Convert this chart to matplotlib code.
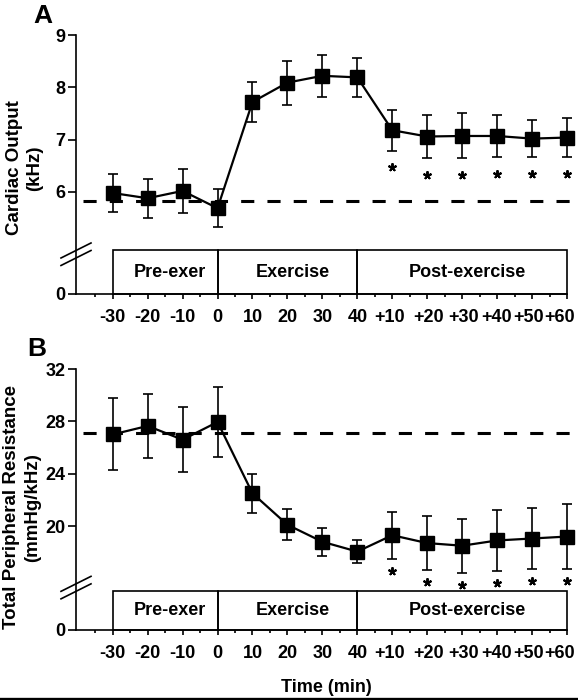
import matplotlib
matplotlib.use('Agg')
import matplotlib.pyplot as plt
from matplotlib.patches import Rectangle
from matplotlib.transforms import ScaledTranslation

plt.rcParams['font.family'] = ['Liberation Sans', 'DejaVu Sans']
plt.rcParams['font.weight'] = 'bold'

# time points (index positions on the x axis)
time_labels = ['-30', '-20', '-10', '0', '10', '20', '30', '40',
               '+10', '+20', '+30', '+40', '+50', '+60']
phase_names = ['Pre-exer', 'Exercise', 'Post-exercise']
phase_start = ['-30', '0', '40']
phase_end = ['0', '40', '+60']

# panel A: cardiac output (kHz)
co_mean = [5.98, 5.88, 6.02, 5.69, 7.72, 8.09, 8.22, 8.19,
           7.18, 7.06, 7.07, 7.07, 7.02, 7.04]
co_se = [0.37, 0.37, 0.42, 0.36, 0.38, 0.42, 0.40, 0.37,
         0.39, 0.41, 0.43, 0.40, 0.36, 0.37]
co_baseline = 5.83

# panel B: total peripheral resistance (mmHg/kHz)
tpr_mean = [27.0, 27.65, 26.6, 27.95, 22.5, 20.1, 18.8, 18.05,
            19.3, 18.7, 18.5, 18.9, 19.05, 19.2]
tpr_se = [2.75, 2.45, 2.5, 2.65, 1.47, 1.2, 1.07, 0.9,
          1.8, 2.05, 2.05, 2.3, 2.3, 2.45]
tpr_baseline = 27.1

significant = [False] * 8 + [True] * 6

x = list(range(len(time_labels)))
AX_W_PX = 491.0


def break_marks(ax, yc, px_per_unit):
    tr = ax.get_yaxis_transform()
    for off in (3.75, -3.75):
        xs = [-15 / AX_W_PX, 15 / AX_W_PX]
        ys = [yc + (off - 7.5) / px_per_unit, yc + (off + 7.5) / px_per_unit]
        ax.plot(xs, ys, color='k', lw=1.2, transform=tr, clip_on=False)


def panel(ax, mean, se, base, ylo, ticks, ticklabels, box_top, star_off,
          ylabel, label_xy, brk, px_per_unit):
    ax.set_xlim(-1.05, 13)
    ax.set_ylim(ylo, ticks[-1])
    ax.axhline(base, xmin=0.014, xmax=1.016, ls=(0, (4.3, 4.3)), lw=2.2,
               color='k', zorder=1, clip_on=False)
    eb = ax.errorbar(x, mean, yerr=se, fmt='-s', color='k', ms=9.8, lw=1.6,
                     elinewidth=1.2, capsize=3.3, capthick=1.2, zorder=3)
    for art in eb.get_children():
        art.set_clip_on(False)
    sx = [i for i in x if significant[i]]
    sy = [mean[i] - se[i] - star_off for i in sx]
    ax.plot(sx, sy, ls='none', marker=(5, 2, 0), ms=6, mew=1.4, color='k',
            clip_on=False)

    for name, a, b in zip(phase_names, phase_start, phase_end):
        x0 = time_labels.index(a)
        x1 = time_labels.index(b)
        ax.add_patch(Rectangle((x0, ylo), x1 - x0, box_top - ylo, fill=False,
                               lw=1.2, ec='k', clip_on=False))
        ax.text((x0 + x1) / 2 + 0.15, (ylo + box_top) / 2, name, ha='center',
                va='center', fontsize=13, fontweight='bold')

    ax.spines['top'].set_visible(False)
    ax.spines['right'].set_visible(False)
    ax.spines['left'].set_linewidth(1.2)
    ax.spines['bottom'].set_linewidth(1.2)
    ax.set_xticks(x)
    ax.set_xticklabels(time_labels)
    ax.set_xticks([i - 0.5 for i in x], minor=True)
    ax.set_yticks(ticks)
    ax.set_yticklabels(ticklabels)
    ax.tick_params(axis='x', which='major', length=3.6, width=1.2, pad=7,
                   labelsize=13)
    ax.tick_params(axis='x', which='minor', length=2.2, width=1.2)
    ax.tick_params(axis='y', which='major', length=6, width=1.2, pad=1.5,
                   labelsize=13)
    # the crowded last labels sit a little left of their ticks
    lbls = ax.get_xticklabels()
    for lbl, dx in zip(lbls[-6:], [-3, 1, 1, -1, -3, -7]):
        lbl.set_transform(lbl.get_transform() +
                          ScaledTranslation(dx / 100, 0, fig.dpi_scale_trans))
    ax.set_ylabel(ylabel, fontsize=13.5, fontweight='bold', linespacing=1.3)
    ax.yaxis.set_label_coords(*label_xy)
    break_marks(ax, brk, px_per_unit)


fig = plt.figure(figsize=(5.78, 7.0), dpi=100)
axA = fig.add_axes([76 / 578, 406 / 700, AX_W_PX / 578, 259 / 700])
axB = fig.add_axes([76 / 578, 70 / 700, AX_W_PX / 578, 261 / 700])

panel(axA, co_mean, co_se, co_baseline, 4.05, [4.05, 6, 7, 8, 9],
      ['0', '6', '7', '8', '9'], 4.89, 0.32,
      'Cardiac Output\n(kHz)', (-0.066, 0.487), 4.81, 52.32)
panel(axB, tpr_mean, tpr_se, tpr_baseline, 12.06, [12.06, 20, 24, 28, 32],
      ['0', '20', '24', '28', '32'], 15.06, 0.95,
      'Total Peripheral Resistance\n(mmHg/kHz)', (-0.071, 0.47), 15.30, 13.09)

fig.text(33 / 578, 1 - 23 / 700, 'A', fontsize=19, fontweight='bold',
         va='baseline', ha='left')
fig.text(27 / 578, 1 - 356 / 700, 'B', fontsize=19, fontweight='bold',
         va='baseline', ha='left')
fig.text(326 / 578, 1 - 692 / 700, 'Time (min)', fontsize=13,
         fontweight='bold', ha='center', va='baseline')
fig.add_artist(plt.Line2D([0, 1], [0.002, 0.002], color='k', lw=2.4,
                          transform=fig.transFigure))

fig.savefig('out.png', dpi=100)
